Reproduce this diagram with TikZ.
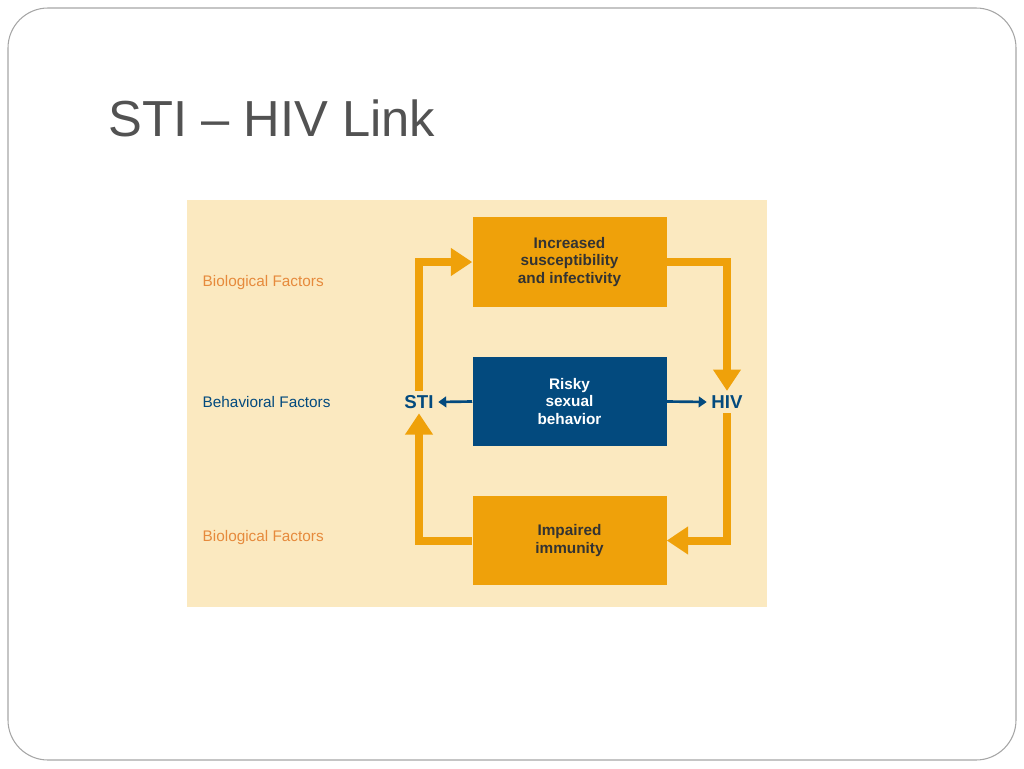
\documentclass[tikz,border=0pt]{standalone}
\usepackage{fontspec}
\setmainfont{Liberation Sans}
\usetikzlibrary{arrows.meta}
\definecolor{org}{HTML}{EFA10A}
\definecolor{cream}{HTML}{FBE9C0}
\definecolor{navy}{HTML}{034A7E}
\definecolor{lab}{HTML}{E68A3C}
\begin{document}
\begin{tikzpicture}[x=0.75pt,y=-0.75pt,
 box/.style={draw=none,minimum width=145.5pt,minimum height=67pt,align=center,font=\bfseries\fontsize{11.5}{13}\selectfont},
 oarr/.style={org,line width=6pt,-{Triangle[length=16pt,width=20pt]}},
 barr/.style={navy,line width=2pt,-{Triangle[length=6pt,width=8pt]}},
 side/.style={anchor=west,font=\fontsize{11.5}{13}\selectfont}]
\useasboundingbox (0,0) rectangle (1024,768);
\draw[gray!70,line width=0.8pt,rounded corners=30pt] (8,8) rectangle (1016,760);
\node[anchor=west,text=black!68,font=\fontsize{38}{44}\selectfont] (title) at (104,118) {STI – HIV Link};
\fill[cream] (187,200) rectangle (767,607);
\node[box,fill=org,text=black!80] (top) at (569.5,262) {Increased\\susceptibility\\and infectivity};
\node[box,fill=navy,text=white] (mid) at (569.5,401.5) {Risky\\sexual\\behavior};
\node[box,fill=org,text=black!80] (bot) at (569.5,540.5) {Impaired\\immunity};
\node[navy,font=\bfseries\fontsize{14}{16}\selectfont] (sti) at (419,402) {STI};
\node[navy,font=\bfseries\fontsize{14}{16}\selectfont] (hiv) at (727,402) {HIV};
\node[side,text=lab] (b1) at (198,283) {Biological Factors};
\node[side,text=navy] (bh) at (198,402) {Behavioral Factors};
\node[side,text=lab] (b2) at (198,538) {Biological Factors};
\draw[oarr] (sti.north) -- (sti.north |- top.west) -- (top.west);
\draw[oarr] (top.east) -- (hiv.north |- top.east) -- (hiv.north);
\draw[oarr] (hiv.south) -- (hiv.south |- bot.east) -- (bot.east);
\draw[oarr] (bot.west) -- (sti.south |- bot.west) -- (sti.south);
\draw[barr] (mid.west) -- (sti.east);
\draw[barr] (mid.east) -- (hiv.west);
\end{tikzpicture}
\end{document}
